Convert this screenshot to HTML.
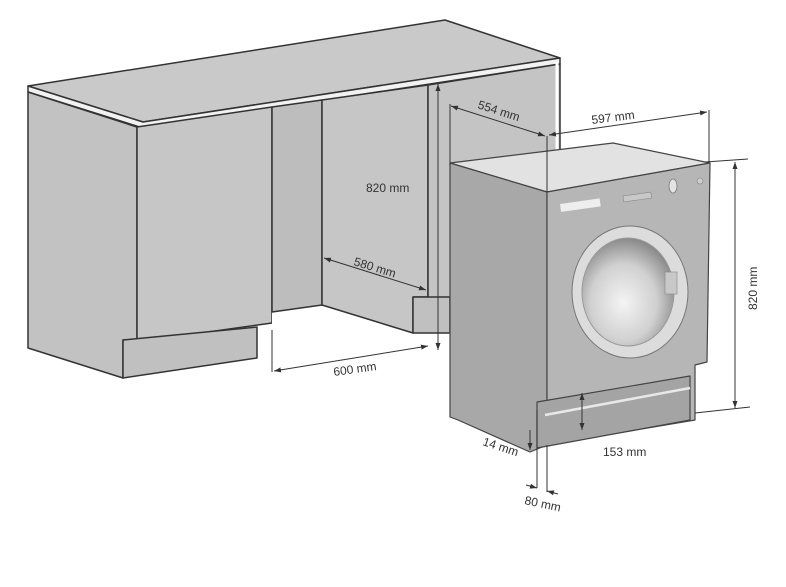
<!DOCTYPE html>
<html><head><style>
html,body{margin:0;padding:0;background:#fff;}
svg{display:block;}
text{font-family:"Liberation Sans",sans-serif;font-size:12px;fill:#333;}
</style></head><body>
<svg width="786" height="587" viewBox="0 0 786 587" xmlns="http://www.w3.org/2000/svg">
<defs>
<marker id="a" markerWidth="8" markerHeight="8" refX="7" refY="4" orient="auto-start-reverse" markerUnits="userSpaceOnUse">
<path d="M0,1.5 L7,4 L0,6.5 Z" fill="#333"/></marker>
<radialGradient id="drum" cx="0.45" cy="0.6" r="0.6">
<stop offset="0" stop-color="#f4f4f4"/><stop offset="0.6" stop-color="#d0d0d0"/><stop offset="1" stop-color="#8a8a8a"/></radialGradient>
</defs>
<g stroke="#333" stroke-width="1.5" stroke-linejoin="round">
<!-- countertop top -->
<polygon points="28,86 445,20 560,58 143,122" fill="#c9c9c9"/>
<polygon points="28,86 143,122 560,58 560,64 143,128 28,92" fill="#f2f2f2"/>
<!-- left side -->
<polygon points="28,92 137,127 137,342 123,340 123,378 28,348" fill="#c2c2c2"/>
<!-- left front door -->
<polygon points="137,127 272,107 272,323 137,342" fill="#c6c6c6"/>
<!-- plinth -->
<polygon points="123,340 257,327 257,358 123,378" fill="#c0c0c0"/>
<!-- recess floor -->
<polygon points="272,312 322,305 413,333 413,340 272,350" fill="#fff" stroke="none"/>
<!-- recess back wall -->
<polygon points="272,107 322,100 322,305 272,312" fill="#bdbdbd"/>
<!-- recess right inner wall -->
<polygon points="322,100 428,85 428,297 413,297 413,333 322,305" fill="#c6c6c6"/>
<!-- right cabinet front -->
<polygon points="428,85 560,64 560,300 428,300" fill="#c4c4c4"/>
<polygon points="413,297 450,297 450,333 413,333" fill="#c0c0c0"/>
</g>
<!-- right cabinet inner lines -->
<line x1="450" y1="110" x2="450" y2="165" stroke="#555" stroke-width="1"/>
<line x1="557" y1="62" x2="557" y2="160" stroke="#fff" stroke-width="3"/>
<!-- washing machine -->
<g stroke="#444" stroke-width="1.2" stroke-linejoin="round">
<polygon points="450,163 613,143 710,163 547,192" fill="#e2e2e2"/>
<polygon points="450,163 547,192 547,445 530,452 458,420 450,417" fill="#a8a8a8"/>
<polygon points="547,192 710,163 707,362 695,365 695,420 547,445" fill="#b6b6b6"/>
<polygon points="537,402 690,376 690,420 537,448" fill="#a4a4a4"/>
</g>
<line x1="545" y1="415" x2="690" y2="388" stroke="#e8e8e8" stroke-width="2.5"/>
<rect x="560" y="204" width="40" height="8" fill="#eee" transform="rotate(-8 560 204)"/>
<rect x="623" y="196" width="28" height="6" fill="#c8c8c8" stroke="#888" stroke-width="0.6" transform="rotate(-8 623 196)"/>
<ellipse cx="673" cy="186" rx="4" ry="7" fill="#e4e4e4" stroke="#777" stroke-width="0.8"/>
<circle cx="700" cy="181" r="3" fill="#ccc" stroke="#888" stroke-width="0.6"/>
<ellipse cx="630" cy="292" rx="58" ry="66" fill="#dcdcdc" stroke="#777" stroke-width="1"/>
<ellipse cx="628" cy="292" rx="46" ry="54" fill="url(#drum)" stroke="#999" stroke-width="1"/>
<rect x="665" y="272" width="12" height="22" fill="#c8c8c8" stroke="#888" stroke-width="0.6"/>
<!-- dimension lines -->
<g stroke="#333" stroke-width="1" fill="none">
<line x1="438" y1="84" x2="438" y2="350" marker-start="url(#a)" marker-end="url(#a)"/>
<line x1="324" y1="258" x2="426" y2="290" marker-start="url(#a)" marker-end="url(#a)"/>
<line x1="272" y1="330" x2="272" y2="372"/>
<line x1="274" y1="371" x2="428" y2="346" marker-start="url(#a)" marker-end="url(#a)"/>
<line x1="450" y1="104" x2="450" y2="165"/>
<line x1="451" y1="106" x2="545" y2="136" marker-start="url(#a)" marker-end="url(#a)"/>
<line x1="547" y1="136" x2="547" y2="192"/>
<line x1="549" y1="135" x2="707" y2="112" marker-start="url(#a)" marker-end="url(#a)"/>
<line x1="709" y1="110" x2="709" y2="163"/>
<line x1="705" y1="162" x2="748" y2="159"/>
<line x1="695" y1="413" x2="750" y2="407"/>
<line x1="735" y1="162" x2="735" y2="408" marker-start="url(#a)" marker-end="url(#a)"/>
<line x1="582" y1="393" x2="582" y2="430" marker-start="url(#a)" marker-end="url(#a)"/>
<line x1="530" y1="430" x2="530" y2="450" marker-end="url(#a)"/>
<line x1="537" y1="410" x2="537" y2="488"/>
<line x1="547" y1="445" x2="547" y2="492"/>
<line x1="526" y1="485" x2="537" y2="488" marker-end="url(#a)"/>
<line x1="558" y1="494" x2="547" y2="491" marker-end="url(#a)"/>
</g>
<text x="366" y="192">820 mm</text>
<text x="353" y="265" transform="rotate(17 353 265)">580 mm</text>
<text x="334" y="376" transform="rotate(-8 334 376)">600 mm</text>
<text x="477" y="108" transform="rotate(18 477 108)">554 mm</text>
<text x="592" y="124" transform="rotate(-7 592 124)">597 mm</text>
<text x="757" y="310" transform="rotate(-90 757 310)">820 mm</text>
<text x="603" y="456">153 mm</text>
<text x="482" y="445" transform="rotate(18 482 445)">14 mm</text>
<text x="524" y="504" transform="rotate(12 524 504)">80 mm</text>
</svg>
</body></html>
